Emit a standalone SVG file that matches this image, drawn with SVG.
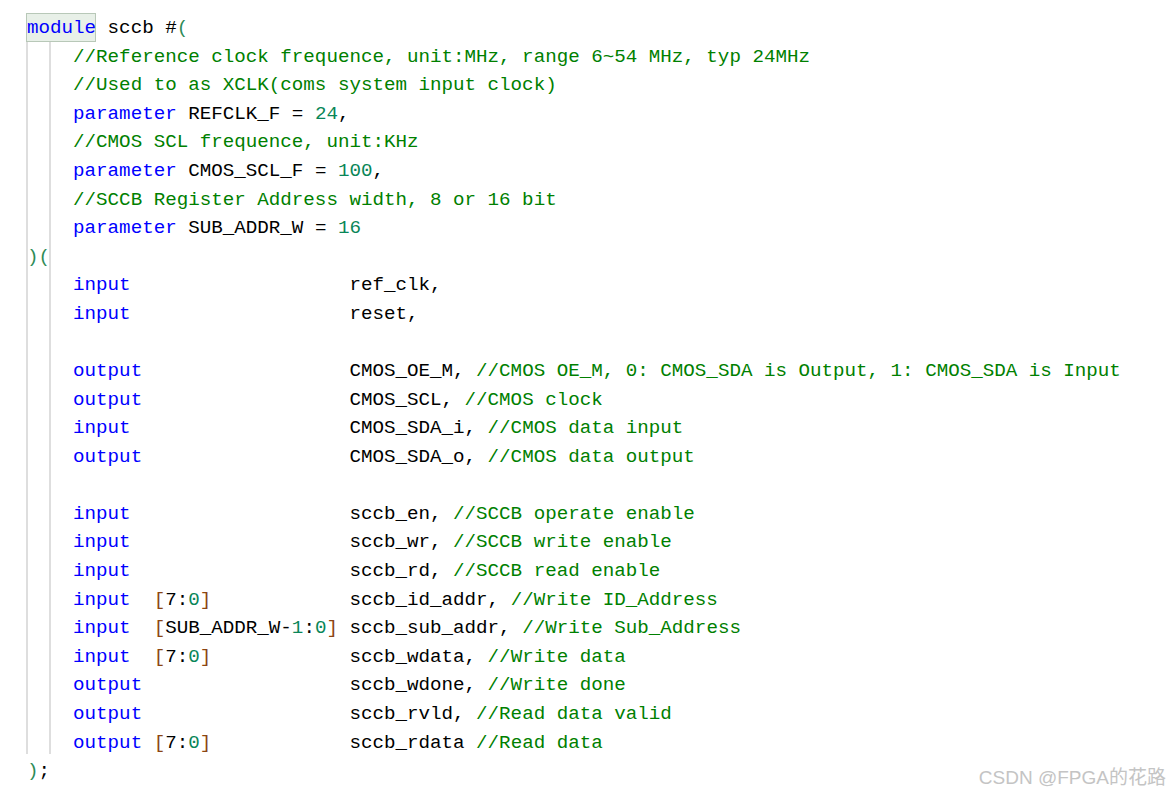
<svg xmlns="http://www.w3.org/2000/svg" width="1176" height="797" viewBox="0 0 1176 797">
<style>
text{font-family:"Liberation Mono","DejaVu Sans Mono",monospace;font-size:19.2px;fill:#000;white-space:pre}
.k{fill:#0000ff}.c{fill:#008000}.n{fill:#098658}.b{fill:#8b4513}.p{fill:#2e8b57}
.g{stroke:#d3d3d3;stroke-width:1.5}
.wm{font-family:"Liberation Sans","Noto Sans CJK SC",sans-serif;font-size:19px;fill:#c4c4c4}
</style>
<rect width="1176" height="797" fill="#fff"/>
<rect x="26.5" y="13.5" width="69" height="28" fill="#e8f0e8" stroke="#b8c8b8"/>
<line class="g" x1="27" y1="42" x2="27" y2="754"/>
<line class="g" x1="50" y1="42" x2="50" y2="754"/>
<g id="code" xml:space="preserve">
<text x="27" y="33"><tspan class="k">module</tspan> sccb #<tspan class="p">(</tspan></text>
<text x="27" y="61.6">    <tspan class="c">//Reference clock frequence, unit:MHz, range 6~54 MHz, typ 24MHz</tspan></text>
<text x="27" y="90.2">    <tspan class="c">//Used to as XCLK(coms system input clock)</tspan></text>
<text x="27" y="118.7">    <tspan class="k">parameter</tspan> REFCLK_F = <tspan class="n">24</tspan>,</text>
<text x="27" y="147.3">    <tspan class="c">//CMOS SCL frequence, unit:KHz</tspan></text>
<text x="27" y="175.9">    <tspan class="k">parameter</tspan> CMOS_SCL_F = <tspan class="n">100</tspan>,</text>
<text x="27" y="204.5">    <tspan class="c">//SCCB Register Address width, 8 or 16 bit</tspan></text>
<text x="27" y="233.1">    <tspan class="k">parameter</tspan> SUB_ADDR_W = <tspan class="n">16</tspan></text>
<text x="27" y="261.6"><tspan class="p">)(</tspan></text>
<text x="27" y="290.2">    <tspan class="k">input</tspan>                   ref_clk,</text>
<text x="27" y="318.8">    <tspan class="k">input</tspan>                   reset,</text>
<text x="27" y="376">    <tspan class="k">output</tspan>                  CMOS_OE_M, <tspan class="c">//CMOS OE_M, 0: CMOS_SDA is Output, 1: CMOS_SDA is Input</tspan></text>
<text x="27" y="404.5">    <tspan class="k">output</tspan>                  CMOS_SCL, <tspan class="c">//CMOS clock</tspan></text>
<text x="27" y="433.1">    <tspan class="k">input</tspan>                   CMOS_SDA_i, <tspan class="c">//CMOS data input</tspan></text>
<text x="27" y="461.7">    <tspan class="k">output</tspan>                  CMOS_SDA_o, <tspan class="c">//CMOS data output</tspan></text>
<text x="27" y="518.9">    <tspan class="k">input</tspan>                   sccb_en, <tspan class="c">//SCCB operate enable</tspan></text>
<text x="27" y="547.4">    <tspan class="k">input</tspan>                   sccb_wr, <tspan class="c">//SCCB write enable</tspan></text>
<text x="27" y="576">    <tspan class="k">input</tspan>                   sccb_rd, <tspan class="c">//SCCB read enable</tspan></text>
<text x="27" y="604.6">    <tspan class="k">input</tspan>  <tspan class="b">[</tspan>7:<tspan class="n">0</tspan><tspan class="b">]</tspan>            sccb_id_addr, <tspan class="c">//Write ID_Address</tspan></text>
<text x="27" y="633.2">    <tspan class="k">input</tspan>  <tspan class="b">[</tspan>SUB_ADDR_W-<tspan class="n">1</tspan>:<tspan class="n">0</tspan><tspan class="b">]</tspan> sccb_sub_addr, <tspan class="c">//Write Sub_Address</tspan></text>
<text x="27" y="661.8">    <tspan class="k">input</tspan>  <tspan class="b">[</tspan>7:<tspan class="n">0</tspan><tspan class="b">]</tspan>            sccb_wdata, <tspan class="c">//Write data</tspan></text>
<text x="27" y="690.3">    <tspan class="k">output</tspan>                  sccb_wdone, <tspan class="c">//Write done</tspan></text>
<text x="27" y="718.9">    <tspan class="k">output</tspan>                  sccb_rvld, <tspan class="c">//Read data valid</tspan></text>
<text x="27" y="747.5">    <tspan class="k">output</tspan> <tspan class="b">[</tspan>7:<tspan class="n">0</tspan><tspan class="b">]</tspan>            sccb_rdata <tspan class="c">//Read data</tspan></text>
<text x="27" y="776.1"><tspan class="p">)</tspan>;</text>
</g>
<text class="wm" x="1166" y="784" text-anchor="end">CSDN @FPGA的花路</text>
</svg>
